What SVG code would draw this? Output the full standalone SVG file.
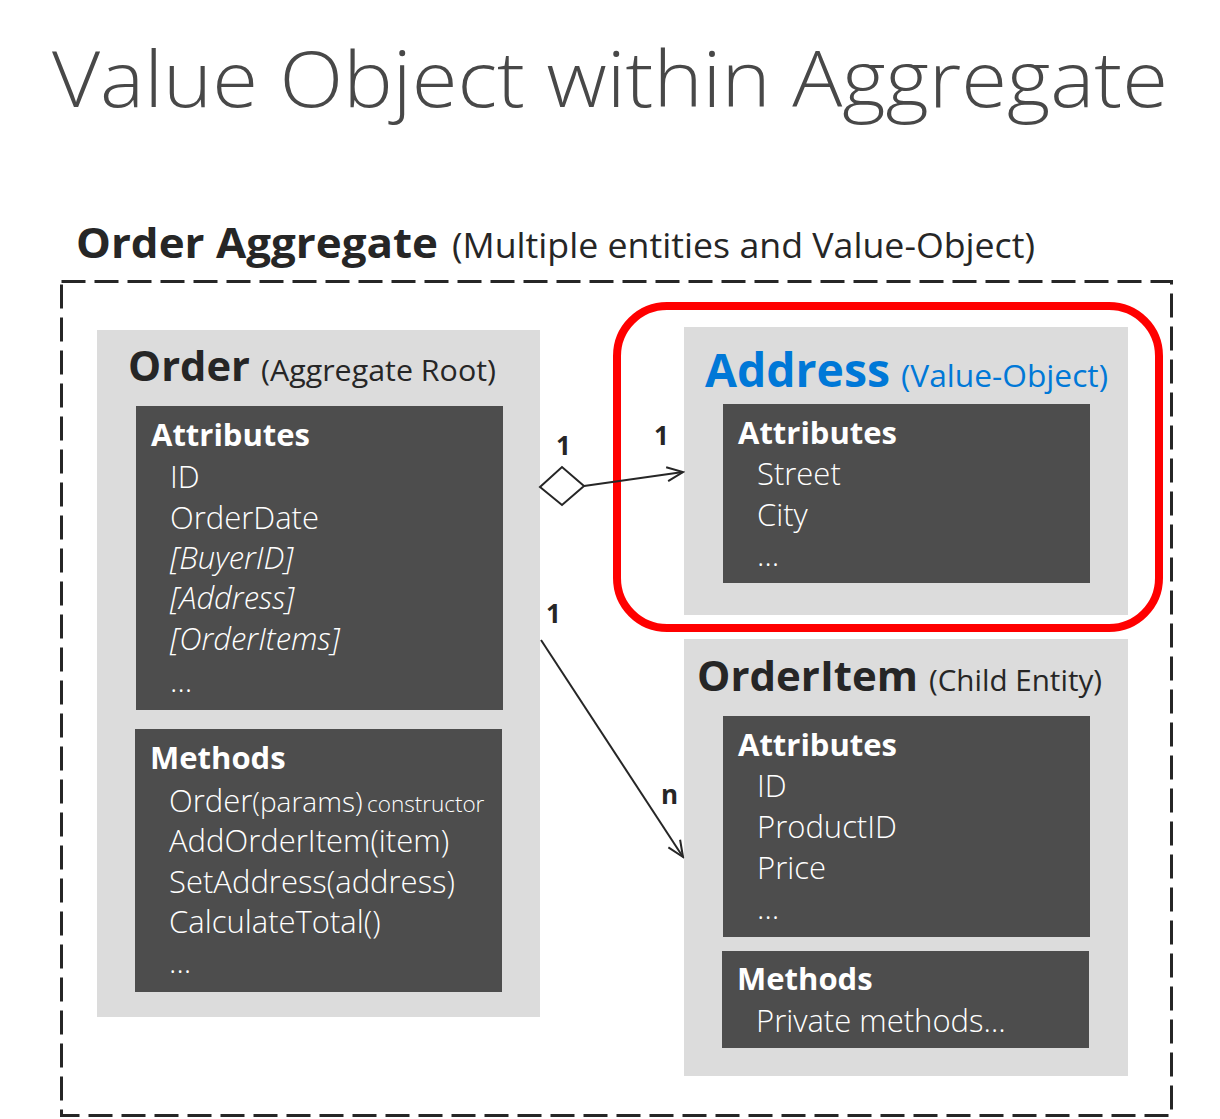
<svg xmlns="http://www.w3.org/2000/svg" width="1220" height="1119" viewBox="0 0 1220 1119">
<style>
text{font-family:"Open Sans","Noto Sans","Liberation Sans",sans-serif;}
.title{font-size:78px;fill:#484848;font-weight:300;}
.h{font-weight:700;fill:#262626;}
.sub{fill:#262626;}
.panel{fill:#dcdcdc;}
.dark{fill:#4d4d4d;}
.sec{font-size:31px;font-weight:700;fill:#ffffff;}
.item{font-size:31px;fill:#ffffff;font-weight:300;}
.num{font-size:26px;font-weight:700;fill:#262626;}
.blue{fill:#0078d7;}
.conn{stroke:#262626;stroke-width:2;fill:none;}
</style>
<defs>
<marker id="arr" viewBox="0 0 20 20" refX="18" refY="10" markerWidth="20" markerHeight="20" markerUnits="userSpaceOnUse" orient="auto">
<path d="M2,3 L18,10 L2,17" fill="none" stroke="#262626" stroke-width="2"/>
</marker>
</defs>
<rect width="1220" height="1119" fill="#ffffff"/>
<text class="title" x="52" y="107" textLength="1116" lengthAdjust="spacingAndGlyphs">Value Object within Aggregate</text>
<text class="h" x="76" y="258" font-size="42" textLength="362" lengthAdjust="spacingAndGlyphs">Order Aggregate</text>
<text class="sub" x="452" y="258" font-size="35" textLength="583" lengthAdjust="spacingAndGlyphs">(Multiple entities and Value-Object)</text>
<rect x="61.5" y="281.5" width="1110" height="834" fill="none" stroke="#262626" stroke-width="3" stroke-dasharray="24 9"/>

<g id="order">
<rect class="panel" x="97" y="330" width="443" height="687"/>
<text class="h" x="128" y="381" font-size="42" textLength="122" lengthAdjust="spacingAndGlyphs">Order</text>
<text class="sub" x="261" y="381" font-size="30" textLength="235" lengthAdjust="spacingAndGlyphs">(Aggregate Root)</text>
<rect class="dark" x="136" y="406" width="367" height="304"/>
<text class="sec" x="151" y="446">Attributes</text>
<text class="item" x="170" y="488">ID</text>
<text class="item" x="170" y="529">OrderDate</text>
<text class="item" x="170" y="569" font-style="italic">[BuyerID]</text>
<text class="item" x="170" y="609" font-style="italic">[Address]</text>
<text class="item" x="170" y="650" font-style="italic">[OrderItems]</text>
<text class="item" x="170" y="692">…</text>
<rect class="dark" x="135" y="729" width="367" height="263"/>
<text class="sec" x="150" y="769">Methods</text>
<text class="item" x="169" y="812">Order<tspan font-size="28">(params)</tspan></text>
<text class="item" x="367" y="812" style="font-size:22.5px">constructor</text>
<text class="item" x="169" y="852">AddOrderItem(item)</text>
<text class="item" x="169" y="893">SetAddress(address)</text>
<text class="item" x="169" y="933">CalculateTotal()</text>
<text class="item" x="169" y="973">…</text>
</g>

<g id="address">
<rect class="panel" x="684" y="327" width="444" height="288"/>
<text class="h blue" x="705" y="387" font-size="46" textLength="185" lengthAdjust="spacingAndGlyphs">Address</text>
<text class="blue" x="901" y="387" font-size="31" textLength="207" lengthAdjust="spacingAndGlyphs">(Value-Object)</text>
<rect class="dark" x="723" y="404" width="367" height="179"/>
<text class="sec" x="738" y="444">Attributes</text>
<text class="item" x="757" y="485">Street</text>
<text class="item" x="757" y="526">City</text>
<text class="item" x="757" y="566">…</text>
</g>

<g id="highlight">
<rect x="617" y="306" width="542" height="322" rx="50" ry="50" fill="none" stroke="#ff0000" stroke-width="8"/>
</g>

<g id="orderitem">
<rect class="panel" x="684" y="639" width="444" height="437"/>
<text class="h" x="697" y="691" font-size="42" textLength="221" lengthAdjust="spacingAndGlyphs">OrderItem</text>
<text class="sub" x="929" y="691" font-size="29" textLength="173" lengthAdjust="spacingAndGlyphs">(Child Entity)</text>
<rect class="dark" x="723" y="716" width="367" height="221"/>
<text class="sec" x="738" y="756">Attributes</text>
<text class="item" x="757" y="797">ID</text>
<text class="item" x="757" y="838">ProductID</text>
<text class="item" x="757" y="879">Price</text>
<text class="item" x="757" y="919">…</text>
<rect class="dark" x="722" y="951" width="367" height="97"/>
<text class="sec" x="737" y="990">Methods</text>
<text class="item" x="756" y="1032">Private methods…</text>
</g>

<g id="connectors">
<path class="conn" d="M540,487 L562,467 L584,486 L562,505 Z" fill="#ffffff"/>
<line class="conn" x1="584" y1="486" x2="683" y2="472" marker-end="url(#arr)"/>
<line class="conn" x1="541" y1="640" x2="683" y2="857" marker-end="url(#arr)"/>
<text class="num" x="556" y="455">1</text>
<text class="num" x="654" y="445">1</text>
<text class="num" x="546" y="623">1</text>
<text class="num" x="661" y="804">n</text>
</g>
</svg>
